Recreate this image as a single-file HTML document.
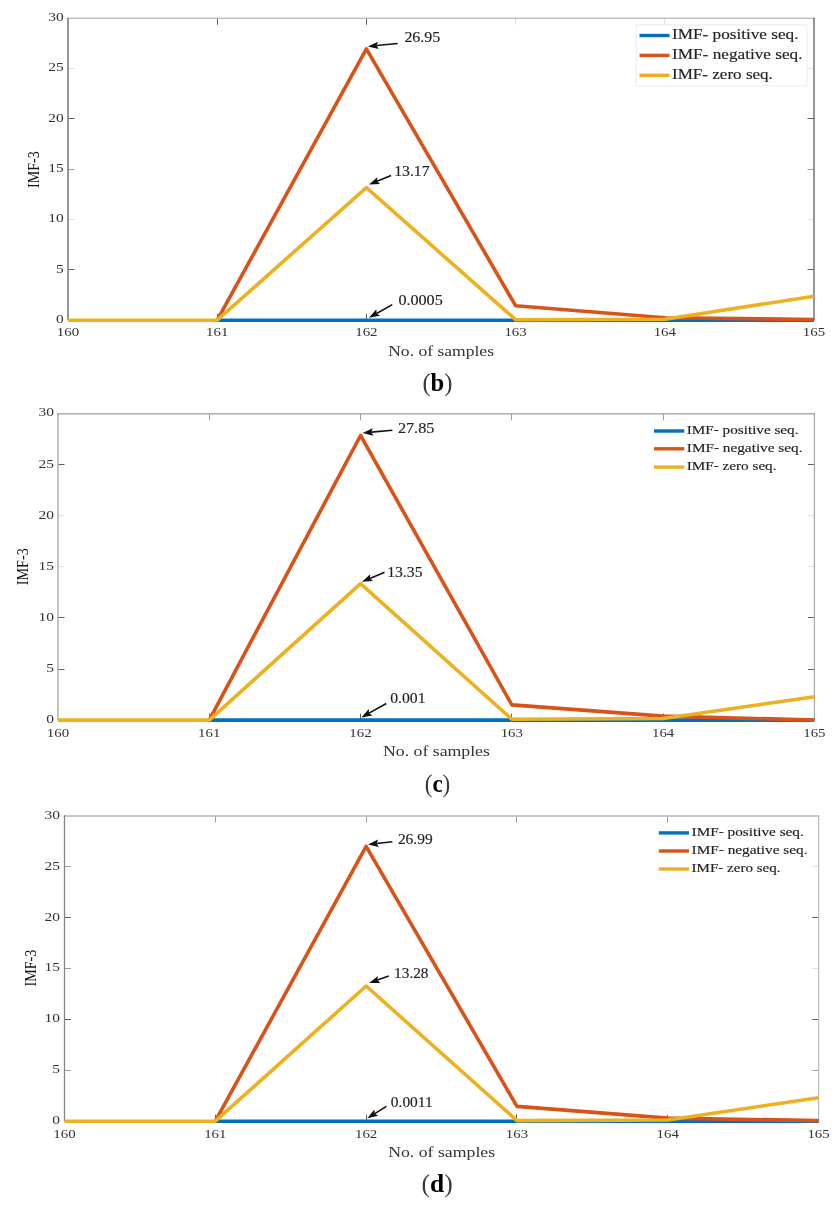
<!DOCTYPE html>
<html><head><meta charset="utf-8"><title>IMF-3 plots</title>
<style>
html,body{margin:0;padding:0;background:#fff;}
body{width:840px;height:1205px;overflow:hidden;}
svg{display:block;}
text{font-family:"Liberation Serif", serif;}
</style></head><body>
<svg width="840" height="1205" viewBox="0 0 840 1205">
<rect width="840" height="1205" fill="#fff"/>
<g>
<path d="M68 269.5H74.5" stroke="#606060" stroke-width="1" fill="none"/>
<path d="M814 269.5H807.5" stroke="#606060" stroke-width="1" fill="none"/>
<path d="M68 219.5H74.5" stroke="#e0e0e0" stroke-width="1" fill="none"/>
<path d="M814 219.5H807.5" stroke="#e0e0e0" stroke-width="1" fill="none"/>
<path d="M68 169.5H74.5" stroke="#a0a0a0" stroke-width="1" fill="none"/>
<path d="M814 169.5H807.5" stroke="#a0a0a0" stroke-width="1" fill="none"/>
<path d="M68 118.5H74.5" stroke="#606060" stroke-width="1" fill="none"/>
<path d="M814 118.5H807.5" stroke="#606060" stroke-width="1" fill="none"/>
<path d="M68 68.5H74.5" stroke="#e0e0e0" stroke-width="1" fill="none"/>
<path d="M814 68.5H807.5" stroke="#e0e0e0" stroke-width="1" fill="none"/>
<path d="M217.5 18.3V24.8" stroke="#606060" stroke-width="1" fill="none"/>
<path d="M217.5 320.2V313.7" stroke="#606060" stroke-width="1" fill="none"/>
<path d="M366.5 18.3V24.8" stroke="#606060" stroke-width="1" fill="none"/>
<path d="M366.5 320.2V313.7" stroke="#606060" stroke-width="1" fill="none"/>
<path d="M515.5 18.3V24.8" stroke="#e0e0e0" stroke-width="1" fill="none"/>
<path d="M664.5 18.3V24.8" stroke="#e0e0e0" stroke-width="1" fill="none"/>
<path d="M67.2 18.3H814.8" stroke="#a6a6a6" stroke-width="1.1" fill="none"/>
<path d="M68 320.2V17.75" stroke="#7c7c7c" stroke-width="1.6" fill="none"/>
<path d="M814 320.2V17.75" stroke="#7c7c7c" stroke-width="1.6" fill="none"/>
<rect x="636.2" y="25" width="170.8" height="61" fill="#fff" stroke="#ececec" stroke-width="1"/>
<polyline points="217.2,320.2 366.4,320.19 515.6,320.2 664.8,320.2 814,320.2" fill="none" stroke="#0072BD" stroke-width="3.6" stroke-linejoin="round"/>
<polyline points="217.2,320.2 366.4,48.81 515.6,305.7 664.8,317.68 814,319.5" fill="none" stroke="#D95319" stroke-width="3.6" stroke-linejoin="round"/>
<polyline points="68,320.2 217.2,320.2 366.4,187.58 515.6,319.7 664.8,319.19 814,296.23" fill="none" stroke="#EDB120" stroke-width="3.6" stroke-linejoin="round"/>
<text x="63.7" y="323.16" font-size="12.9" text-anchor="end" fill="#333" textLength="7.74" lengthAdjust="spacingAndGlyphs">0</text>
<text x="63.7" y="272.81" font-size="12.9" text-anchor="end" fill="#333" textLength="7.74" lengthAdjust="spacingAndGlyphs">5</text>
<text x="63.7" y="222.46" font-size="12.9" text-anchor="end" fill="#333" textLength="15.48" lengthAdjust="spacingAndGlyphs">10</text>
<text x="63.7" y="172.11" font-size="12.9" text-anchor="end" fill="#333" textLength="15.48" lengthAdjust="spacingAndGlyphs">15</text>
<text x="63.7" y="121.76" font-size="12.9" text-anchor="end" fill="#333" textLength="15.48" lengthAdjust="spacingAndGlyphs">20</text>
<text x="63.7" y="71.41" font-size="12.9" text-anchor="end" fill="#333" textLength="15.48" lengthAdjust="spacingAndGlyphs">25</text>
<text x="63.7" y="21.06" font-size="12.9" text-anchor="end" fill="#333" textLength="15.48" lengthAdjust="spacingAndGlyphs">30</text>
<text x="68" y="336.3" font-size="12.9" text-anchor="middle" fill="#333" textLength="22.35" lengthAdjust="spacingAndGlyphs">160</text>
<text x="217.2" y="336.3" font-size="12.9" text-anchor="middle" fill="#333" textLength="22.35" lengthAdjust="spacingAndGlyphs">161</text>
<text x="366.4" y="336.3" font-size="12.9" text-anchor="middle" fill="#333" textLength="22.35" lengthAdjust="spacingAndGlyphs">162</text>
<text x="515.6" y="336.3" font-size="12.9" text-anchor="middle" fill="#333" textLength="22.35" lengthAdjust="spacingAndGlyphs">163</text>
<text x="664.8" y="336.3" font-size="12.9" text-anchor="middle" fill="#333" textLength="22.35" lengthAdjust="spacingAndGlyphs">164</text>
<text x="814" y="336.3" font-size="12.9" text-anchor="middle" fill="#333" textLength="22.35" lengthAdjust="spacingAndGlyphs">165</text>
<path d="M639.5 35.5H669.5" stroke="#0072BD" stroke-width="3.4"/>
<text x="672" y="39" font-size="14.5" fill="#222" stroke="#222" stroke-width="0.15" textLength="126.5" lengthAdjust="spacingAndGlyphs">IMF- positive seq.</text>
<path d="M639.5 55.4H669.5" stroke="#D95319" stroke-width="3.4"/>
<text x="672" y="58.9" font-size="14.5" fill="#222" stroke="#222" stroke-width="0.15" textLength="130.5" lengthAdjust="spacingAndGlyphs">IMF- negative seq.</text>
<path d="M639.5 75.3H669.5" stroke="#EDB120" stroke-width="3.4"/>
<text x="672" y="78.8" font-size="14.5" fill="#222" stroke="#222" stroke-width="0.15" textLength="100.9" lengthAdjust="spacingAndGlyphs">IMF- zero seq.</text>
<text x="404.4" y="42.3" font-size="14" fill="#222" stroke="#222" stroke-width="0.15" textLength="35.9" lengthAdjust="spacingAndGlyphs">26.95</text>
<path d="M397.6 43.5L376.56 45.55" stroke="#111" stroke-width="1.6"/>
<path d="M367.9 46.4L377.99 41.7L376.56 45.55L378.71 49.06Z" fill="#111"/>
<text x="394.2" y="176.3" font-size="14" fill="#222" stroke="#222" stroke-width="0.15" textLength="35.4" lengthAdjust="spacingAndGlyphs">13.17</text>
<path d="M391 175.5L377.04 181.27" stroke="#111" stroke-width="1.6"/>
<path d="M369 184.6L377.29 177.17L377.04 181.27L380.12 184.01Z" fill="#111"/>
<text x="398.4" y="304.6" font-size="14" fill="#222" stroke="#222" stroke-width="0.15" textLength="44.3" lengthAdjust="spacingAndGlyphs">0.0005</text>
<path d="M392.3 304.6L376.58 313.44" stroke="#111" stroke-width="1.6"/>
<path d="M369 317.7L376.34 309.33L376.58 313.44L379.97 315.78Z" fill="#111"/>
<text transform="translate(39.2 169.55) rotate(-90)" font-size="16.5" text-anchor="middle" fill="#111" textLength="36.7" lengthAdjust="spacingAndGlyphs">IMF-3</text>
<text x="388.2" y="356.1" font-size="14.5" fill="#333" textLength="105.8" lengthAdjust="spacingAndGlyphs">No. of samples</text>
<text x="422.4" y="391" font-size="25.5" fill="#3a3a3a" textLength="30.1" lengthAdjust="spacingAndGlyphs">(<tspan font-weight="bold" fill="#000">b</tspan>)</text>
</g>
<g>
<path d="M58 669.5H64.5" stroke="#606060" stroke-width="1" fill="none"/>
<path d="M814.4 669.5H807.9" stroke="#606060" stroke-width="1" fill="none"/>
<path d="M58 617.5H64.5" stroke="#606060" stroke-width="1" fill="none"/>
<path d="M814.4 617.5H807.9" stroke="#606060" stroke-width="1" fill="none"/>
<path d="M58 566.5H64.5" stroke="#e0e0e0" stroke-width="1" fill="none"/>
<path d="M814.4 566.5H807.9" stroke="#e0e0e0" stroke-width="1" fill="none"/>
<path d="M58 515.5H64.5" stroke="#e0e0e0" stroke-width="1" fill="none"/>
<path d="M814.4 515.5H807.9" stroke="#e0e0e0" stroke-width="1" fill="none"/>
<path d="M58 464.5H64.5" stroke="#606060" stroke-width="1" fill="none"/>
<path d="M814.4 464.5H807.9" stroke="#606060" stroke-width="1" fill="none"/>
<path d="M209.5 413.9V420.4" stroke="#a0a0a0" stroke-width="1" fill="none"/>
<path d="M209.5 720.1V713.6" stroke="#606060" stroke-width="1" fill="none"/>
<path d="M360.5 413.9V420.4" stroke="#a0a0a0" stroke-width="1" fill="none"/>
<path d="M360.5 720.1V713.6" stroke="#606060" stroke-width="1" fill="none"/>
<path d="M511.5 413.9V420.4" stroke="#a0a0a0" stroke-width="1" fill="none"/>
<path d="M511.5 720.1V713.6" stroke="#606060" stroke-width="1" fill="none"/>
<path d="M663.5 413.9V420.4" stroke="#a0a0a0" stroke-width="1" fill="none"/>
<path d="M663.5 720.1V713.6" stroke="#606060" stroke-width="1" fill="none"/>
<path d="M57.3 413.9H815.05" stroke="#9c9c9c" stroke-width="1.4" fill="none"/>
<path d="M58 720.1V413.2" stroke="#a8a8a8" stroke-width="1.4" fill="none"/>
<path d="M814.4 720.1V413.2" stroke="#ababab" stroke-width="1.3" fill="none"/>
<polyline points="209.28,720.1 360.56,720.09 511.84,720.1 663.12,720.1 814.4,720.1" fill="none" stroke="#0072BD" stroke-width="3.6" stroke-linejoin="round"/>
<polyline points="209.28,720.1 360.56,435.47 511.84,704.87 663.12,716.11 814.4,720" fill="none" stroke="#D95319" stroke-width="3.6" stroke-linejoin="round"/>
<polyline points="58,720.1 209.28,720.1 360.56,583.66 511.84,719.28 663.12,718.57 814.4,696.7" fill="none" stroke="#EDB120" stroke-width="3.6" stroke-linejoin="round"/>
<text x="54" y="723.06" font-size="12.9" text-anchor="end" fill="#333" textLength="7.74" lengthAdjust="spacingAndGlyphs">0</text>
<text x="54" y="671.96" font-size="12.9" text-anchor="end" fill="#333" textLength="7.74" lengthAdjust="spacingAndGlyphs">5</text>
<text x="54" y="620.86" font-size="12.9" text-anchor="end" fill="#333" textLength="15.48" lengthAdjust="spacingAndGlyphs">10</text>
<text x="54" y="569.76" font-size="12.9" text-anchor="end" fill="#333" textLength="15.48" lengthAdjust="spacingAndGlyphs">15</text>
<text x="54" y="518.66" font-size="12.9" text-anchor="end" fill="#333" textLength="15.48" lengthAdjust="spacingAndGlyphs">20</text>
<text x="54" y="467.56" font-size="12.9" text-anchor="end" fill="#333" textLength="15.48" lengthAdjust="spacingAndGlyphs">25</text>
<text x="54" y="416.46" font-size="12.9" text-anchor="end" fill="#333" textLength="15.48" lengthAdjust="spacingAndGlyphs">30</text>
<text x="58" y="736.9" font-size="12.9" text-anchor="middle" fill="#333" textLength="22.35" lengthAdjust="spacingAndGlyphs">160</text>
<text x="209.28" y="736.9" font-size="12.9" text-anchor="middle" fill="#333" textLength="22.35" lengthAdjust="spacingAndGlyphs">161</text>
<text x="360.56" y="736.9" font-size="12.9" text-anchor="middle" fill="#333" textLength="22.35" lengthAdjust="spacingAndGlyphs">162</text>
<text x="511.84" y="736.9" font-size="12.9" text-anchor="middle" fill="#333" textLength="22.35" lengthAdjust="spacingAndGlyphs">163</text>
<text x="663.12" y="736.9" font-size="12.9" text-anchor="middle" fill="#333" textLength="22.35" lengthAdjust="spacingAndGlyphs">164</text>
<text x="814.4" y="736.9" font-size="12.9" text-anchor="middle" fill="#333" textLength="22.35" lengthAdjust="spacingAndGlyphs">165</text>
<path d="M654 431H684.3" stroke="#0072BD" stroke-width="3.4"/>
<text x="686.8" y="434.1" font-size="13" fill="#222" stroke="#222" stroke-width="0.15" textLength="111.7" lengthAdjust="spacingAndGlyphs">IMF- positive seq.</text>
<path d="M654 448.8H684.3" stroke="#D95319" stroke-width="3.4"/>
<text x="686.8" y="451.9" font-size="13" fill="#222" stroke="#222" stroke-width="0.15" textLength="115.7" lengthAdjust="spacingAndGlyphs">IMF- negative seq.</text>
<path d="M654 467.1H684.3" stroke="#EDB120" stroke-width="3.4"/>
<text x="686.8" y="470.2" font-size="13" fill="#222" stroke="#222" stroke-width="0.15" textLength="89.7" lengthAdjust="spacingAndGlyphs">IMF- zero seq.</text>
<text x="397.9" y="432.9" font-size="14" fill="#222" stroke="#222" stroke-width="0.15" textLength="36.5" lengthAdjust="spacingAndGlyphs">27.85</text>
<path d="M392.4 430.2L371.26 432.11" stroke="#111" stroke-width="1.6"/>
<path d="M362.6 432.9L372.72 428.27L371.26 432.11L373.39 435.64Z" fill="#111"/>
<text x="387.2" y="576.9" font-size="14" fill="#222" stroke="#222" stroke-width="0.15" textLength="35.3" lengthAdjust="spacingAndGlyphs">13.35</text>
<path d="M384.5 572.3L370.01 578.42" stroke="#111" stroke-width="1.6"/>
<path d="M362 581.8L370.23 574.31L370.01 578.42L373.11 581.12Z" fill="#111"/>
<text x="390.2" y="702.9" font-size="14" fill="#222" stroke="#222" stroke-width="0.15" textLength="35.3" lengthAdjust="spacingAndGlyphs">0.001</text>
<path d="M386.4 703.5L369 713.17" stroke="#111" stroke-width="1.6"/>
<path d="M361.4 717.4L368.78 709.06L369 713.17L372.37 715.53Z" fill="#111"/>
<text transform="translate(28 566.75) rotate(-90)" font-size="16.5" text-anchor="middle" fill="#111" textLength="36.9" lengthAdjust="spacingAndGlyphs">IMF-3</text>
<text x="383" y="756.2" font-size="14.5" fill="#333" textLength="106.9" lengthAdjust="spacingAndGlyphs">No. of samples</text>
<text x="424.7" y="791.9" font-size="25.5" fill="#3a3a3a" textLength="25.6" lengthAdjust="spacingAndGlyphs">(<tspan font-weight="bold" fill="#000">c</tspan>)</text>
</g>
<g>
<path d="M64.5 1070.5H71" stroke="#a0a0a0" stroke-width="1" fill="none"/>
<path d="M818.6 1070.5H812.1" stroke="#a0a0a0" stroke-width="1" fill="none"/>
<path d="M64.5 1019.5H71" stroke="#606060" stroke-width="1" fill="none"/>
<path d="M818.6 1019.5H812.1" stroke="#606060" stroke-width="1" fill="none"/>
<path d="M64.5 968.5H71" stroke="#a0a0a0" stroke-width="1" fill="none"/>
<path d="M818.6 968.5H812.1" stroke="#e0e0e0" stroke-width="1" fill="none"/>
<path d="M64.5 917.5H71" stroke="#606060" stroke-width="1" fill="none"/>
<path d="M818.6 917.5H812.1" stroke="#606060" stroke-width="1" fill="none"/>
<path d="M64.5 866.5H71" stroke="#a0a0a0" stroke-width="1" fill="none"/>
<path d="M818.6 866.5H812.1" stroke="#e0e0e0" stroke-width="1" fill="none"/>
<path d="M215.5 816V822.5" stroke="#a0a0a0" stroke-width="1" fill="none"/>
<path d="M215.5 1121.2V1114.7" stroke="#606060" stroke-width="1" fill="none"/>
<path d="M366.5 816V822.5" stroke="#a0a0a0" stroke-width="1" fill="none"/>
<path d="M366.5 1121.2V1114.7" stroke="#606060" stroke-width="1" fill="none"/>
<path d="M516.5 816V822.5" stroke="#a0a0a0" stroke-width="1" fill="none"/>
<path d="M516.5 1121.2V1114.7" stroke="#606060" stroke-width="1" fill="none"/>
<path d="M667.5 816V822.5" stroke="#a0a0a0" stroke-width="1" fill="none"/>
<path d="M667.5 1121.2V1114.7" stroke="#606060" stroke-width="1" fill="none"/>
<path d="M63.85 816H819.25" stroke="#b6b6b6" stroke-width="1.5" fill="none"/>
<path d="M64.5 1121.2V815.25" stroke="#858585" stroke-width="1.3" fill="none"/>
<path d="M818.6 1121.2V815.25" stroke="#bdbdbd" stroke-width="1.3" fill="none"/>
<polyline points="215.32,1121.2 366.14,1121.19 516.96,1121.2 667.78,1121.2 818.6,1121.2" fill="none" stroke="#0072BD" stroke-width="3.6" stroke-linejoin="round"/>
<polyline points="215.32,1121.2 366.14,846.44 516.96,1106.34 667.78,1118.15 818.6,1120.59" fill="none" stroke="#D95319" stroke-width="3.6" stroke-linejoin="round"/>
<polyline points="64.5,1121.2 215.32,1121.2 366.14,986.01 516.96,1120.59 667.78,1119.98 818.6,1097.68" fill="none" stroke="#EDB120" stroke-width="3.6" stroke-linejoin="round"/>
<text x="60.1" y="1124.16" font-size="12.9" text-anchor="end" fill="#333" textLength="7.74" lengthAdjust="spacingAndGlyphs">0</text>
<text x="60.1" y="1073.26" font-size="12.9" text-anchor="end" fill="#333" textLength="7.74" lengthAdjust="spacingAndGlyphs">5</text>
<text x="60.1" y="1022.36" font-size="12.9" text-anchor="end" fill="#333" textLength="15.48" lengthAdjust="spacingAndGlyphs">10</text>
<text x="60.1" y="971.46" font-size="12.9" text-anchor="end" fill="#333" textLength="15.48" lengthAdjust="spacingAndGlyphs">15</text>
<text x="60.1" y="920.56" font-size="12.9" text-anchor="end" fill="#333" textLength="15.48" lengthAdjust="spacingAndGlyphs">20</text>
<text x="60.1" y="869.66" font-size="12.9" text-anchor="end" fill="#333" textLength="15.48" lengthAdjust="spacingAndGlyphs">25</text>
<text x="60.1" y="818.76" font-size="12.9" text-anchor="end" fill="#333" textLength="15.48" lengthAdjust="spacingAndGlyphs">30</text>
<text x="64.5" y="1137.7" font-size="12.9" text-anchor="middle" fill="#333" textLength="22.35" lengthAdjust="spacingAndGlyphs">160</text>
<text x="215.32" y="1137.7" font-size="12.9" text-anchor="middle" fill="#333" textLength="22.35" lengthAdjust="spacingAndGlyphs">161</text>
<text x="366.14" y="1137.7" font-size="12.9" text-anchor="middle" fill="#333" textLength="22.35" lengthAdjust="spacingAndGlyphs">162</text>
<text x="516.96" y="1137.7" font-size="12.9" text-anchor="middle" fill="#333" textLength="22.35" lengthAdjust="spacingAndGlyphs">163</text>
<text x="667.78" y="1137.7" font-size="12.9" text-anchor="middle" fill="#333" textLength="22.35" lengthAdjust="spacingAndGlyphs">164</text>
<text x="818.6" y="1137.7" font-size="12.9" text-anchor="middle" fill="#333" textLength="22.35" lengthAdjust="spacingAndGlyphs">165</text>
<path d="M658.8 832.9H689" stroke="#0072BD" stroke-width="3.4"/>
<text x="691.6" y="836" font-size="13" fill="#222" stroke="#222" stroke-width="0.15" textLength="112.2" lengthAdjust="spacingAndGlyphs">IMF- positive seq.</text>
<path d="M658.8 851H689" stroke="#D95319" stroke-width="3.4"/>
<text x="691.6" y="854.1" font-size="13" fill="#222" stroke="#222" stroke-width="0.15" textLength="115.9" lengthAdjust="spacingAndGlyphs">IMF- negative seq.</text>
<path d="M658.8 869H689" stroke="#EDB120" stroke-width="3.4"/>
<text x="691.6" y="872.1" font-size="13" fill="#222" stroke="#222" stroke-width="0.15" textLength="88.9" lengthAdjust="spacingAndGlyphs">IMF- zero seq.</text>
<text x="397.9" y="843.8" font-size="14" fill="#222" stroke="#222" stroke-width="0.15" textLength="34.8" lengthAdjust="spacingAndGlyphs">26.99</text>
<path d="M392.4 841.7L376.65 843.44" stroke="#111" stroke-width="1.6"/>
<path d="M368 844.4L378.03 839.57L376.65 843.44L378.84 846.92Z" fill="#111"/>
<text x="394.1" y="977.5" font-size="14" fill="#222" stroke="#222" stroke-width="0.15" textLength="34.4" lengthAdjust="spacingAndGlyphs">13.28</text>
<path d="M388.8 976L377.41 980.01" stroke="#111" stroke-width="1.6"/>
<path d="M369.2 982.9L377.88 975.92L377.41 980.01L380.33 982.9Z" fill="#111"/>
<text x="390.8" y="1106.7" font-size="14" fill="#222" stroke="#222" stroke-width="0.15" textLength="41.9" lengthAdjust="spacingAndGlyphs">0.0011</text>
<path d="M386.4 1106.4L374.77 1113.68" stroke="#111" stroke-width="1.6"/>
<path d="M367.4 1118.3L374.33 1109.59L374.77 1113.68L378.26 1115.86Z" fill="#111"/>
<text transform="translate(35.6 968.05) rotate(-90)" font-size="16.5" text-anchor="middle" fill="#111" textLength="36.7" lengthAdjust="spacingAndGlyphs">IMF-3</text>
<text x="388.2" y="1157.1" font-size="14.5" fill="#333" textLength="106.9" lengthAdjust="spacingAndGlyphs">No. of samples</text>
<text x="421.6" y="1192" font-size="25.5" fill="#3a3a3a" textLength="31.1" lengthAdjust="spacingAndGlyphs">(<tspan font-weight="bold" fill="#000">d</tspan>)</text>
</g>
</svg>
</body></html>
